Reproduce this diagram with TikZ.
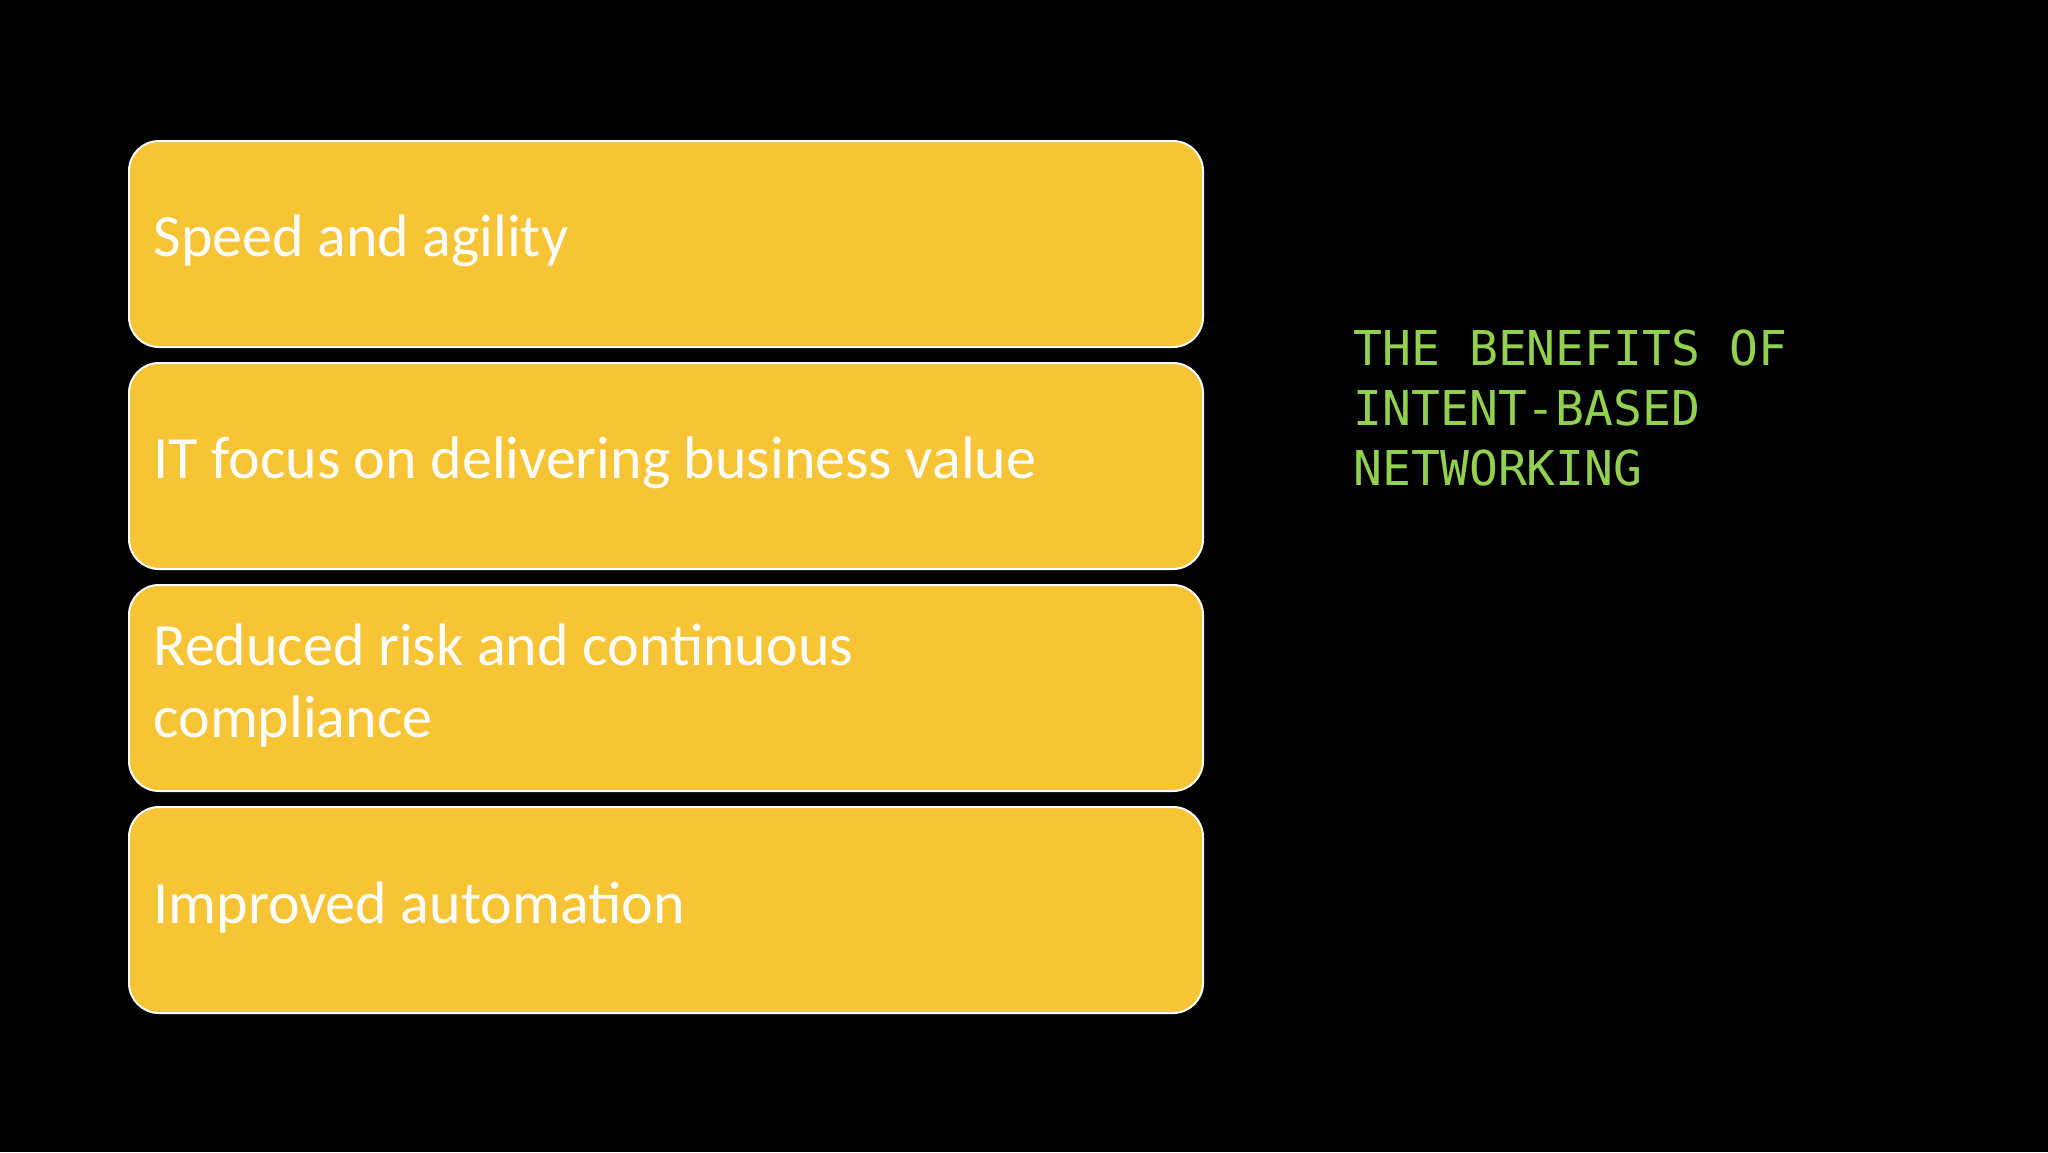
\documentclass[tikz,border=0pt]{standalone}
\usepackage{fontspec}
\setmainfont{Carlito}
\newfontfamily\monof{DejaVu Sans Mono}
\definecolor{boxy}{RGB}{246,196,52}
\definecolor{titleg}{RGB}{146,208,80}
\begin{document}
\begin{tikzpicture}[x=1pt,y=-1pt,
  itembox/.style={draw=white,line width=2pt,fill=boxy,rounded corners=30pt,minimum width=1074pt,minimum height=206pt,anchor=north west},
  itemtext/.style={text=white,font=\fontsize{60}{72}\selectfont,anchor=west,align=left}]
\fill[black] (0,0) rectangle (2048,1152);
\useasboundingbox (0,0) rectangle (2048,1152);
\node[itembox] (b1) at (128,140) {};
\node[itembox] (b2) at (128,362) {};
\node[itembox] (b3) at (128,584) {};
\node[itembox] (b4) at (128,806) {};
\node[itemtext] (t1) at (150,241) {Speed and agility};
\node[itemtext] (t2) at (150,463) {IT focus on delivering business value};
\node[itemtext] (t3) at (150,685) {Reduced risk and continuous\\compliance};
\node[itemtext] (t4) at (150,907) {Improved automation};
\node[anchor=north west,text=titleg,align=left,font=\monof\fontsize{48}{60}\selectfont] (title) at (1350,326) {THE BENEFITS OF\\INTENT-BASED\\NETWORKING};
\end{tikzpicture}
\end{document}
